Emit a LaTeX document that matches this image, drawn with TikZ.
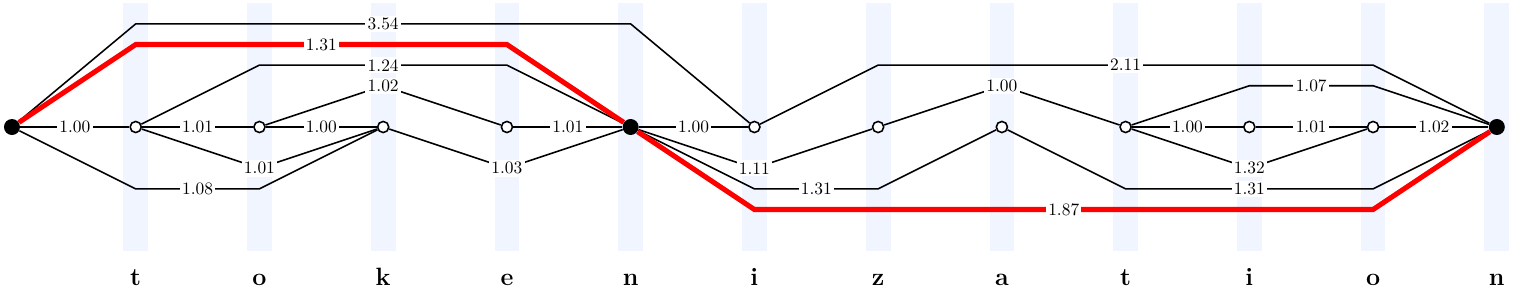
\documentclass[tikz,border=0pt]{standalone}
\usetikzlibrary{calc}
\definecolor{stripe}{RGB}{240,245,255}
\begin{document}
\begin{tikzpicture}[
  lbl/.style={fill=white, text=black, inner sep=1.3pt, font=\fontsize{10}{12}\selectfont},
  edge/.style={line width=0.9pt, black},
  best/.style={line width=2.9pt, red},
  hub/.style={circle, fill=black, minimum size=9.2pt, inner sep=0pt},
  tok/.style={circle, draw=black, fill=white, line width=0.9pt, minimum size=6.4pt, inner sep=0pt},
  letter/.style={font=\Large\bfseries, anchor=base, inner sep=0pt}
]
\def\h{0.4167}
\useasboundingbox (-0.242,-3.253) rectangle (30.408,2.566);
% stripes
\foreach \i in {1,...,12} \fill[stripe] (2.5*\i-0.25,-2.5) rectangle (2.5*\i+0.25,2.5);
% level coordinates
\coordinate (u5) at (0,5*\h);
\coordinate (u4) at (0,4*\h);
\coordinate (u3) at (0,3*\h);
\coordinate (u2) at (0,2*\h);
\coordinate (d2) at (0,-2*\h);
\coordinate (d3) at (0,-3*\h);
\coordinate (d4) at (0,-4*\h);
% nodes
\node[hub] (c0) at (0,0) {};
\node[tok] (c1) at (2.5,0) {};
\node[tok] (c2) at (5,0) {};
\node[tok] (c3) at (7.5,0) {};
\node[tok] (c4) at (10,0) {};
\node[hub] (c5) at (12.5,0) {};
\node[tok] (c6) at (15,0) {};
\node[tok] (c7) at (17.5,0) {};
\node[tok] (c8) at (20,0) {};
\node[tok] (c9) at (22.5,0) {};
\node[tok] (c10) at (25,0) {};
\node[tok] (c11) at (27.5,0) {};
\node[hub] (c12) at (30,0) {};
% letters
\node[letter] (l1) at (2.5,-3.212) {t};
\node[letter] (l2) at (5,-3.212) {o};
\node[letter] (l3) at (7.5,-3.212) {k};
\node[letter] (l4) at (10,-3.212) {e};
\node[letter] (l5) at (12.5,-3.212) {n};
\node[letter] (l6) at (15,-3.212) {i};
\node[letter] (l7) at (17.5,-3.212) {z};
\node[letter] (l8) at (20,-3.212) {a};
\node[letter] (l9) at (22.5,-3.212) {t};
\node[letter] (l10) at (25,-3.212) {i};
\node[letter] (l11) at (27.5,-3.212) {o};
\node[letter] (l12) at (30,-3.212) {n};
% black edges
\draw[edge] (c0) -- (c1 |- u5) -- node[lbl]{3.54} (c5 |- u5) -- (c6);
\draw[edge] (c1) -- (c2 |- u3) -- node[lbl]{1.24} (c4 |- u3) -- (c5);
\draw[edge] (c2) -- (c3 |- u2) node[lbl]{1.02} -- (c4);
\draw[edge] (c0) -- node[lbl]{1.00} (c1);
\draw[edge] (c1) -- node[lbl]{1.01} (c2);
\draw[edge] (c2) -- node[lbl]{1.00} (c3);
\draw[edge] (c1) -- (c2 |- d2) node[lbl]{1.01} -- (c3);
\draw[edge] (c0) -- (c1 |- d3) -- node[lbl]{1.08} (c2 |- d3) -- (c3);
\draw[edge] (c3) -- (c4 |- d2) node[lbl]{1.03} -- (c5);
\draw[edge] (c4) -- node[lbl]{1.01} (c5);
\draw[edge] (c5) -- node[lbl]{1.00} (c6);
\draw[edge] (c5) -- (c6 |- d2) node[lbl]{1.11} -- (c7);
\draw[edge] (c5) -- (c6 |- d3) -- node[lbl]{1.31} (c7 |- d3) -- (c8);
\draw[edge] (c6) -- (c7 |- u3) -- node[lbl]{2.11} (c11 |- u3) -- (c12);
\draw[edge] (c7) -- (c8 |- u2) node[lbl]{1.00} -- (c9);
\draw[edge] (c8) -- (c9 |- d3) -- node[lbl]{1.31} (c11 |- d3) -- (c12);
\draw[edge] (c9) -- (c10 |- u2) -- node[lbl]{1.07} (c11 |- u2) -- (c12);
\draw[edge] (c9) -- node[lbl]{1.00} (c10);
\draw[edge] (c10) -- node[lbl]{1.01} (c11);
\draw[edge] (c11) -- node[lbl]{1.02} (c12);
\draw[edge] (c9) -- (c10 |- d2) node[lbl]{1.32} -- (c11);
% best path
\draw[best] (c0) -- (c1 |- u4) -- node[lbl]{1.31} (c4 |- u4) -- (c5);
\draw[best] (c5) -- (c6 |- d4) -- node[lbl]{1.87} (c11 |- d4) -- (c12);
\end{tikzpicture}
\end{document}
